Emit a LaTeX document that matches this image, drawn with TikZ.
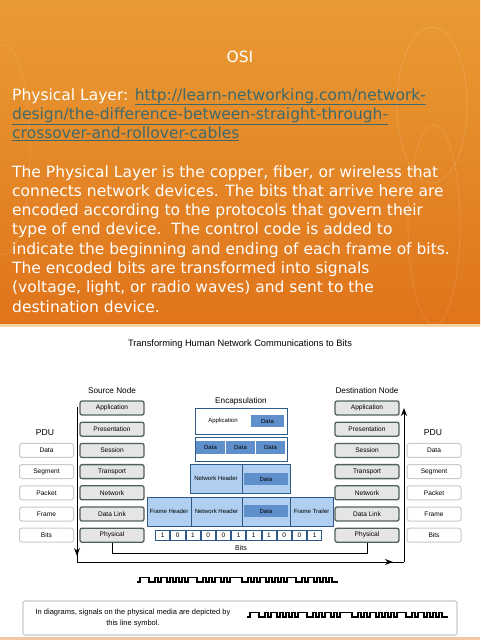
\documentclass[tikz,border=0pt]{standalone}
\usepackage{fontspec}
\usetikzlibrary{arrows.meta, calc}
\newfontfamily\slidefont{DejaVu Sans}
\newfontfamily\figfont{Liberation Sans}
\definecolor{slidetop}{HTML}{E99B35}
\definecolor{slidebot}{HTML}{E0741B}
\definecolor{linkcol}{HTML}{3D6A6C}
\definecolor{layerline}{HTML}{52605C}
\definecolor{layerfill}{HTML}{E4E5E4}
\definecolor{pduline}{HTML}{C9C9C9}
\definecolor{encline}{HTML}{2F5B88}
\definecolor{encfill}{HTML}{B0CFF1}
\definecolor{datafill}{HTML}{5F90CC}
\def\sigbits{0,1,1,1,0,0,1,0,1,1,0,1,0,1,0,1,0,1,1,1,0,0,1,0,1,0,1,1,0,1,0,1,1,1,1,0,0,1,0,1,0,1,1,0,1,0,1,0,1,0,1,1,1,0,0,1,0,1,1,0,1,0,1,0,1,0,0}
\tikzset{
  slidetext/.style={anchor=base west, inner sep=0pt, text=white, font=\slidefont\fontsize{15.5}{19}\selectfont},
  layer/.style={draw=layerline, line width=1.3pt, rounded corners=2pt, fill=layerfill,
    minimum width=64pt, minimum height=14pt, inner sep=0pt, font=\figfont\fontsize{6.6}{7}\selectfont},
  pdu/.style={draw=pduline, line width=1pt, rounded corners=2.5pt, fill=white,
    minimum width=54pt, minimum height=14pt, inner sep=0pt, font=\figfont\fontsize{6.6}{7}\selectfont},
  enc/.style={draw=encline, line width=0.8pt, fill=encfill, inner sep=0pt, font=\figfont\fontsize{6}{7}\selectfont},
  datab/.style={fill=datafill, inner sep=0pt, minimum height=12pt, font=\figfont\fontsize{6}{7}\selectfont},
  bitbox/.style={draw=encline, line width=0.7pt, fill=white, minimum width=14.2pt, minimum height=10pt,
    inner sep=0pt, font=\figfont\fontsize{6.5}{7}\selectfont},
  label/.style={font=\figfont\fontsize{8.2}{9}\selectfont, inner sep=0pt},
  flow/.style={line width=1pt},
  flowtip/.style={line width=1pt, -{Stealth[length=8pt, width=6pt]}},
  signal/.pic={\draw[line width=1.9pt] (0,0) \foreach \b [count=\i] in \sigbits {|- (3*\i,-4.5*\b)};}
}
\begin{document}
\begin{tikzpicture}[x=1pt, y=-1pt]
  \useasboundingbox (0,0) rectangle (480,640);
  % --- slide background ---
  \shade[top color=slidetop, bottom color=slidebot] (0,0) rectangle (480,324);
  \fill[slidetop!45] (0,324) rectangle (480,327);
  \fill[slidebot!40] (0,637) rectangle (480,640);
  \draw[white, opacity=0.15, line width=0.8pt] (432,105) ellipse (35 and 78);
  \draw[white, opacity=0.12, line width=0.8pt] (434,225) ellipse (26 and 100);
  \draw[white, opacity=0.12, line width=0.8pt] (4,150) ellipse (26 and 105);
  % --- slide text ---
  \node[slidetext, anchor=base] (osi) at (240,62) {OSI};
  \node[slidetext] (link1) at (12,100) {Physical Layer: \textcolor{linkcol}{\underline{http://learn-networking.com/network-}}};
  \node[slidetext, text=linkcol] (link2) at (12,119.3) {\underline{design/the-difference-between-straight-through-}};
  \node[slidetext, text=linkcol] (link3) at (12,138.6) {\underline{crossover-and-rollover-cables}};
  \foreach \txt [count=\i] in {{The Physical Layer is the copper, fiber, or wireless that},
      {connects network devices. The bits that arrive here are},
      {encoded according to the protocols that govern their},
      {type of end device.\ \ The control code is added to},
      {indicate the beginning and ending of each frame of bits.},
      {The encoded bits are transformed into signals},
      {(voltage, light, or radio waves) and sent to the},
      {destination device.}}
    \node[slidetext] (para\i) at (12,{177+19.3*(\i-1)}) {\txt};
  % --- diagram ---
  \node[label, font=\figfont\fontsize{9.3}{10}\selectfont] (title) at (240,344) {Transforming Human Network Communications to Bits};
  \node[label] (srcname) at (112,391) {Source Node};
  \node[label] (dstname) at (367,391) {Destination Node};
  \node[label] (encname) at (241,401) {Encapsulation};
  \node[label, font=\figfont\fontsize{8.6}{9}\selectfont] (lpdu) at (45,433) {PDU};
  \node[label, font=\figfont\fontsize{8.6}{9}\selectfont] (rpdu) at (433,433) {PDU};
  \foreach \name [count=\i] in {Application, Presentation, Session, Transport, Network, Data Link, Physical} {
    \node[layer] (src\i) at (112,{408+21.2*(\i-1)}) {\name};
    \node[layer] (dst\i) at (367,{408+21.2*(\i-1)}) {\name};
  }
  \foreach \pdu [count=\i from 3] in {Data, Segment, Packet, Frame, Bits} {
    \node[pdu] (lp\i) at (46.5,{408+21.2*(\i-1)}) {\pdu};
    \node[pdu] (rp\i) at (434,{408+21.2*(\i-1)}) {\pdu};
  }
  % encapsulation blocks
  \node[enc, fill=white, minimum width=92pt, minimum height=26pt] (appblk) at (241,421) {};
  \node[label, font=\figfont\fontsize{6}{7}\selectfont] (apptxt) at (223,421) {Application};
  \node[datab, minimum width=33pt] (appdata) at (267.5,421) {Data};
  \node[enc, fill=white, minimum width=92pt, minimum height=24pt] (trblk) at (241,449) {};
  \foreach \x [count=\i] in {210.5,240.5,270.5}
    \node[datab, minimum width=29pt, minimum height=13pt] (trdata\i) at (\x,447.5) {Data};
  \node[enc, minimum width=52pt, minimum height=29pt] (nethdr) at (216,478.5) {Network Header};
  \node[enc, minimum width=48pt, minimum height=29pt] (netpay) at (266,478.5) {};
  \node[datab, minimum width=44pt] (netdata) at (266,479) {Data};
  \node[enc, minimum width=44pt, minimum height=29pt] (frhdr) at (169,511.5) {Frame Header};
  \node[enc, minimum width=51pt, minimum height=29pt] (frnet) at (216.5,511.5) {Network Header};
  \node[enc, minimum width=48pt, minimum height=29pt] (frpay) at (266,511.5) {};
  \node[datab, minimum width=44pt] (frdata) at (266,511) {Data};
  \node[enc, minimum width=43pt, minimum height=29pt] (frtrl) at (311.5,511.5) {Frame Trailer};
  \foreach \bit [count=\i] in {1,0,1,0,0,1,1,1,0,0,1}
    \node[bitbox] (bit\i) at ({155+15.2*(\i-0.5)},535) {\bit};
  \node[label, font=\figfont\fontsize{7}{8}\selectfont] (bitstxt) at (241,548) {Bits};
  % connectors
  \draw[flow] (src7.south) -- ++(0,11) -| (dst7.south);
  \coordinate (downTop) at (77,407);
  \coordinate (downEnd) at (77,562);
  \coordinate (upStart) at (404,562);
  \coordinate (upTop) at (404,408);
  \draw[flow] (downTop) -- (downEnd) -- (upStart);
  \draw[flowtip] (downTop) -- (77,556);
  \draw[flowtip] (upStart -| 300,0) -- (393,562);
  \draw[flowtip] (upStart) -- (upTop);
  % signals
  \pic (sigMain) at (137,582) {signal};
  \node[draw=pduline, line width=1.2pt, rounded corners=2pt, minimum width=434pt, minimum height=34pt] (keybox) at (240,618) {};
  \node[label, align=center, font=\figfont\fontsize{7.5}{11}\selectfont] (keytxt) at (133,618.5)
    {In diagrams, signals on the physical media are depicted by\\this line symbol.};
  \pic (sigKey) at (247,617) {signal};
\end{tikzpicture}
\end{document}
